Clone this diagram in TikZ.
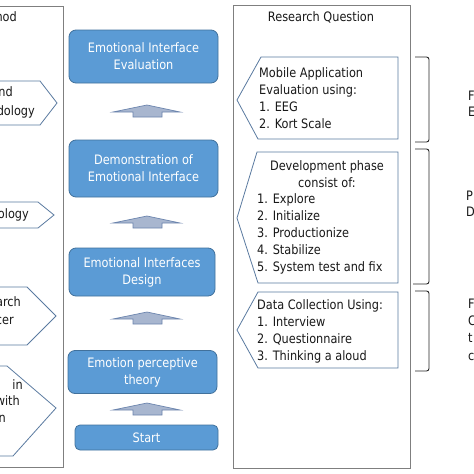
\documentclass[tikz,border=0pt]{standalone}
\usepackage{fontspec}
\setmainfont{DejaVu Sans}[FakeStretch=0.87]
\usetikzlibrary{calc}
\definecolor{boxfill}{HTML}{5B9BD5}
\definecolor{boxline}{HTML}{41719C}
\definecolor{pentline}{HTML}{5A7AA0}
\definecolor{arrfill}{HTML}{A8B6CF}
\definecolor{arrline}{HTML}{6C85AE}
\definecolor{panelline}{HTML}{7F7F7F}
\newcommand\dfont{\fontsize{13}{17}\selectfont}
\begin{document}
\begin{tikzpicture}[x=1pt,y=-1pt,
  panel/.style={draw=panelline, line width=0.9pt},
  box/.style={draw=boxline, fill=boxfill, rounded corners=7pt, text=white, align=center, font=\dfont, line width=0.8pt, inner sep=0pt},
  pent/.style={draw=pentline, fill=white, line width=0.8pt},
  uparr/.style={draw=arrline, fill=arrfill, line width=0.7pt},
  txt/.style={font=\dfont, text=black!90, align=left, inner sep=0pt},
  one/.style={txt, text height=9.5pt, text depth=2.7pt},
  brk/.style={draw=black!85, line width=0.9pt, rounded corners=2.5pt},
  uparrow/.pic={\draw[uparr] (-34,7) -- (0,0) -- (33,7) -- (15,7) -- (15,12) -- (-14,12) -- (-14,7) -- cycle;}
]
\useasboundingbox (0,0) rectangle (474,474);
\clip (0,0) rectangle (474,474);
\fill[white] (0,0) rectangle (474,474);

% left panel
\draw[panel] (-5,6) rectangle (63,467);
\node[one, anchor=east] (lt) at (17,18) {hod};
\draw[pent] (-5,81) -- (40,81) -- (57,103) -- (40,125) -- (-5,125) -- cycle;
\node[one, anchor=east] (l1a) at (13,93) {nd};
\node[one, anchor=east] (l1b) at (35,112) {dology};
\draw[pent] (-5,202) -- (38,202) -- (54,215) -- (38,228) -- (-5,228) -- cycle;
\node[one, anchor=east] (l2a) at (29,215) {ology};
\draw[pent] (-5,287) -- (27,287) -- (56,316) -- (27,345) -- (-5,345) -- cycle;
\node[one, anchor=east] (l3a) at (21,303) {arch};
\node[one, anchor=east] (l3b) at (14,321) {cer};
\draw[pent] (-5,366) -- (7,366) -- (56,408) -- (13,456) -- (-5,456) -- cycle;
\node[one, anchor=east] (l4a) at (23,386) {in};
\node[one, anchor=east] (l4b) at (20,402) {with};
\node[one, anchor=east] (l4c) at (6,419) {n};

% centre column
\node[box, minimum width=149pt, minimum height=53pt] (b1) at (143.5,56.5) {Emotional Interface\\Evaluation};
\node[box, minimum width=149pt, minimum height=57pt] (b2) at (143.5,168.5) {Demonstration of\\Emotional Interface};
\node[box, minimum width=146pt, minimum height=48pt] (b3) at (142,272) {Emotional Interfaces\\Design};
\node[box, minimum width=149pt, minimum height=43pt] (b4) at (142.5,372) {Emotion perceptive\\theory};
\node[box, minimum width=143pt, minimum height=25pt, rounded corners=5pt] (b5) at (146.5,437.5) {Start};
\pic at (147,105) {uparrow};
\pic at (147,216) {uparrow};
\pic at (147,312) {uparrow};
\pic at (147,403) {uparrow};

% right panel
\draw[panel] (233,5) rectangle (410,468);
\node[one] (rq) at (321,18) {Research Question};
\draw[pent] (398,57) -- (398,139) -- (258,139) -- (237,100) -- (261,57) -- cycle;
\node[txt, anchor=west] (ta) at (259,98.5) {Mobile Application\\Evaluation using:\\1. EEG\\2. Kort Scale};
\draw[pent] (398,152) -- (398,283) -- (258,283) -- (237,218) -- (257,152) -- cycle;
\node[txt, align=center] (tbh) at (327,174.5) {Development phase\\consist of:};
\node[txt, anchor=west] (tbl) at (257,233.5) {1. Explore\\2. Initialize\\3. Productionize\\4. Stabilize\\5. System test and fix};
\draw[pent] (398,292) -- (398,368) -- (258,368) -- (237,330) -- (258,292) -- cycle;
\node[txt, anchor=west] (tc) at (257,331) {Data Collection Using:\\1. Interview\\2. Questionnaire\\3. Thinking a aloud};

% brackets
\draw[brk] (415,57) -- (429,57) -- (429,142) -- (415,142);
\draw[brk] (415,149) -- (429,149) -- (429,284) -- (413,284);
\draw[brk] (415,291) -- (429,291) -- (429,371) -- (415,371);

% right edge fragments
\node[one, anchor=west] (r1a) at (468,97) {F};
\node[one, anchor=west] (r1b) at (468,113) {E};
\node[one, anchor=west] (r2a) at (466,197) {Ph};
\node[one, anchor=west] (r2b) at (466,213) {De};
\node[one, anchor=west] (r3a) at (468,305) {F};
\node[one, anchor=west] (r3b) at (468,322) {C};
\node[one, anchor=west] (r3c) at (468,339) {t};
\node[one, anchor=west] (r3d) at (468,357) {c};
\end{tikzpicture}
\end{document}
